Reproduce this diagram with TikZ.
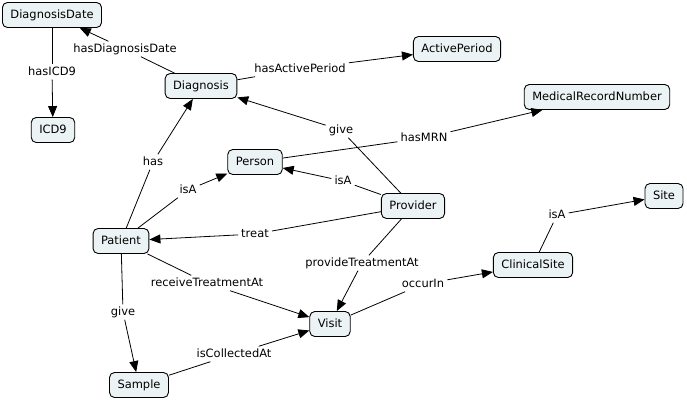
\documentclass[tikz,border=0pt]{standalone}
\usepackage{fontspec}
\setmainfont{DejaVu Sans}
\usetikzlibrary{arrows.meta}
\definecolor{cbox}{RGB}{236,243,245}
\tikzset{
  concept/.style={draw=black, line width=0.9bp, fill=cbox, rounded corners=5bp,
    inner xsep=8bp, inner ysep=7bp, text height=8.5bp, text depth=2.5bp,
    font=\fontsize{11.5}{13}\selectfont},
  lbl/.style={inner xsep=3bp, inner ysep=2bp, text height=8.5bp, text depth=2.5bp,
    font=\fontsize{11.5}{13}\selectfont},
  link/.style={draw=black, line width=0.8bp},
  arr/.style={link, -{Triangle[length=11bp,width=9bp]}}
}
\begin{document}
\begin{tikzpicture}[x=1bp,y=-1bp]
\useasboundingbox (0,0) rectangle (687,402);
% concepts
\node[concept] (dd) at (52,15) {DiagnosisDate};
\node[concept] (icd) at (53,130) {ICD9};
\node[concept] (diag) at (201,86) {Diagnosis};
\node[concept] (ap) at (457,49) {ActivePeriod};
\node[concept] (mrn) at (597,97) {MedicalRecordNumber};
\node[concept] (person) at (255,162) {Person};
\node[concept] (prov) at (413,206) {Provider};
\node[concept] (pat) at (121,241) {Patient};
\node[concept] (site) at (664,196) {Site};
\node[concept] (cs) at (533,265) {ClinicalSite};
\node[concept] (visit) at (330,324) {Visit};
\node[concept] (sample) at (139,385) {Sample};
% linking phrases
\node[lbl] (l1) at (125,49) {hasDiagnosisDate};
\node[lbl] (l2) at (52,72) {hasICD9};
\node[lbl] (l3) at (300,69) {hasActivePeriod};
\node[lbl] (l4) at (424,138) {hasMRN};
\node[lbl] (l5) at (341,130) {give};
\node[lbl] (l6) at (153,162) {has};
\node[lbl] (l7) at (188,190) {isA};
\node[lbl] (l8) at (343,181) {isA};
\node[lbl] (l9) at (255,234) {treat};
\node[lbl] (l10) at (362,263) {provideTreatmentAt};
\node[lbl] (l11) at (207,283) {receiveTreatmentAt};
\node[lbl] (l12) at (423,284) {occurIn};
\node[lbl] (l13) at (557,215) {isA};
\node[lbl] (l14) at (123,312) {give};
\node[lbl] (l15) at (234,354) {isCollectedAt};
% connections
\draw[link] (diag) -- (l1); \draw[arr] (l1) -- (dd);
\draw[link] (dd) -- (l2); \draw[arr] (l2) -- (icd);
\draw[link] (diag) -- (l3); \draw[arr] (l3) -- (ap);
\draw[link] (person) -- (l4); \draw[arr] (l4) -- (mrn);
\draw[link] (prov) -- (l5); \draw[arr] (l5) -- (diag);
\draw[link] (pat) -- (l6); \draw[arr] (l6) -- (diag);
\draw[link] (pat) -- (l7); \draw[arr] (l7) -- (person);
\draw[link] (prov) -- (l8); \draw[arr] (l8) -- (person);
\draw[link] (prov) -- (l9); \draw[arr] (l9) -- (pat);
\draw[link] (prov) -- (l10); \draw[arr] (l10) -- (visit);
\draw[link] (pat) -- (l11); \draw[arr] (l11) -- (visit);
\draw[link] (visit) -- (l12); \draw[arr] (l12) -- (cs);
\draw[link] (cs) -- (l13); \draw[arr] (l13) -- (site);
\draw[link] (pat) -- (l14); \draw[arr] (l14) -- (sample);
\draw[link] (sample) -- (l15); \draw[arr] (l15) -- (visit);
\end{tikzpicture}
\end{document}
